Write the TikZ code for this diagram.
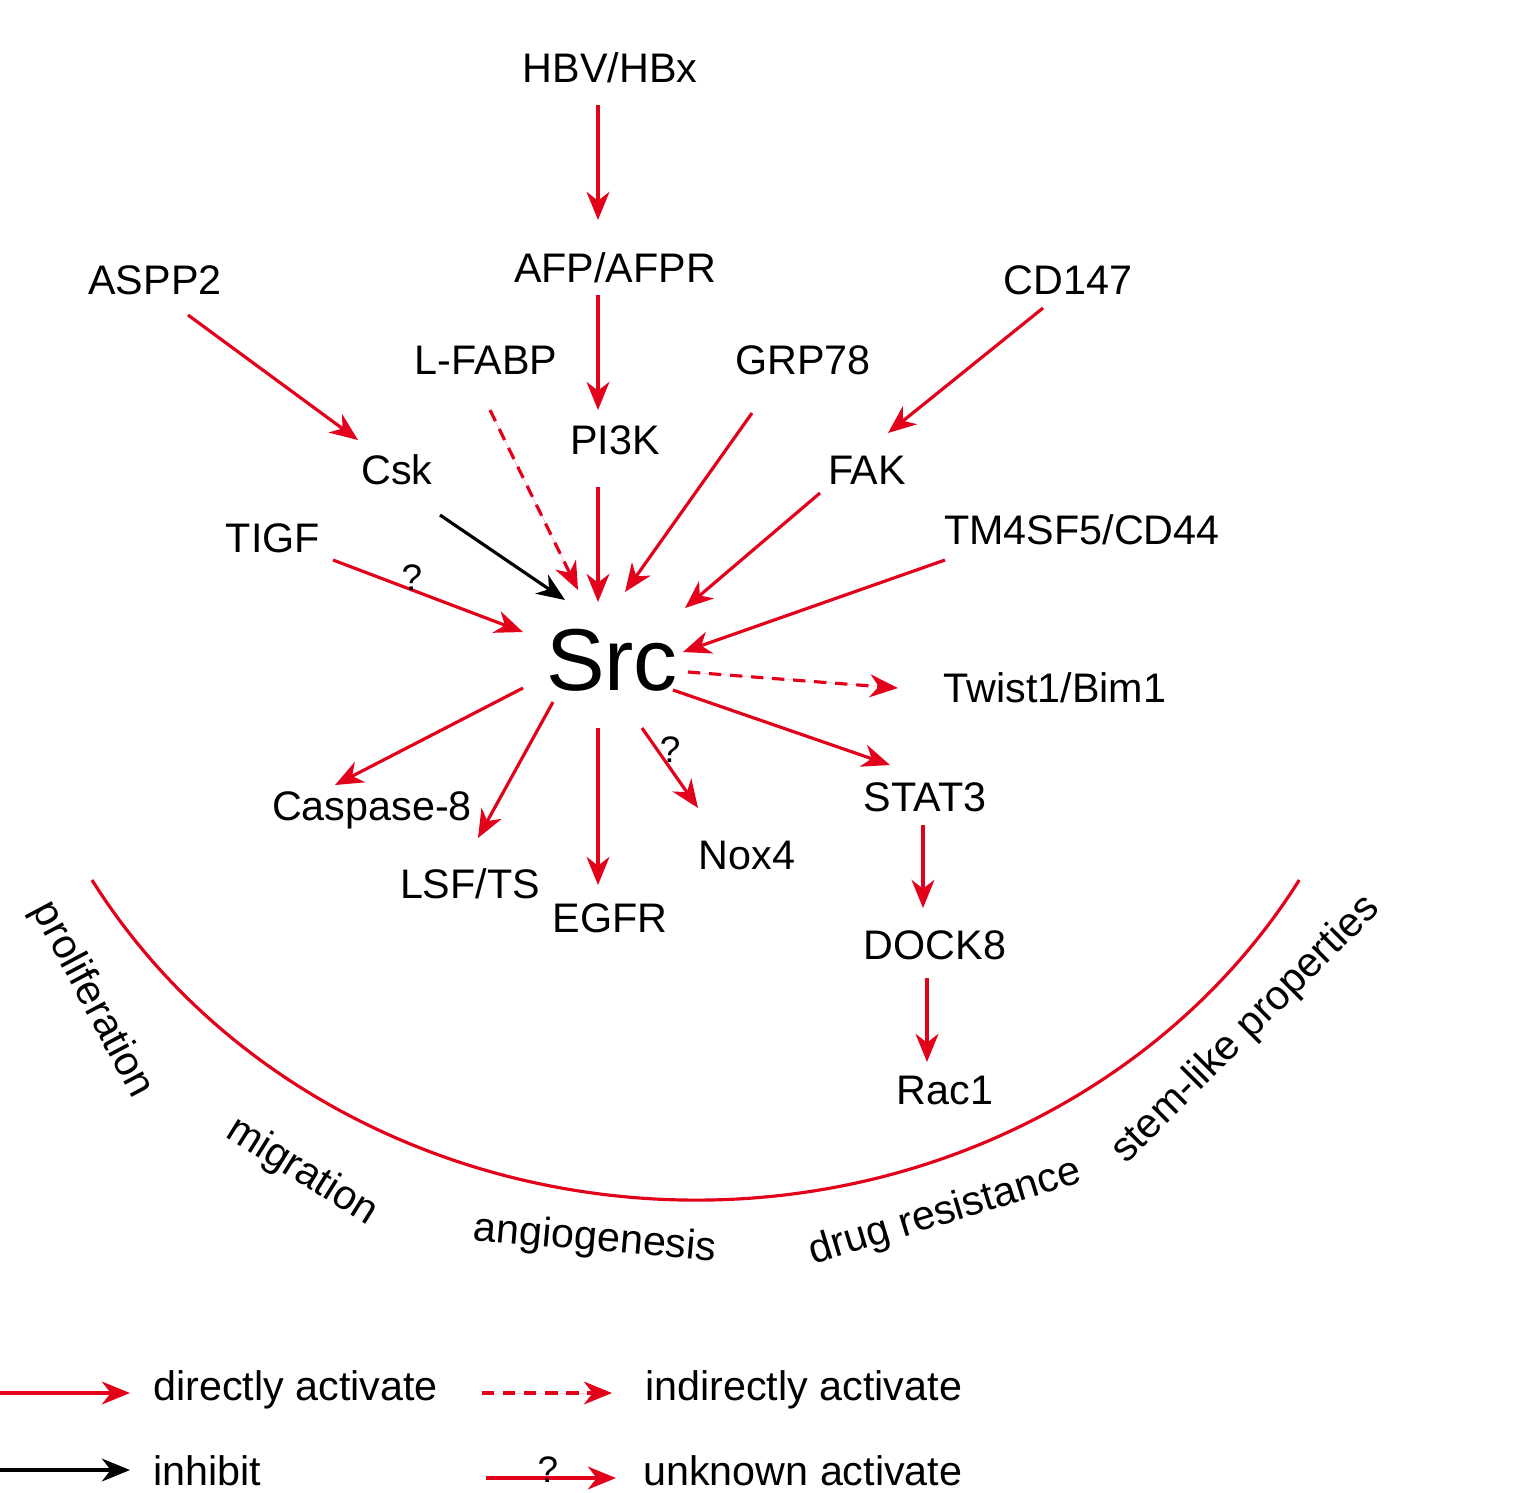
\documentclass[tikz,border=0pt]{standalone}
\usepackage{fontspec}
\setmainfont{Liberation Sans}
\usetikzlibrary{arrows.meta}
\definecolor{rd}{RGB}{226,0,26}
\begin{document}
\begin{tikzpicture}[x=0.02cm,y=-0.02cm,
  lbl/.style={font=\fontsize{23.5}{27}\selectfont,inner sep=0pt},
  act/.style={draw=rd,line width=1.8pt,-{Stealth[length=16pt,width=13pt,inset=5pt]},fill=rd},
  ind/.style={act,dash pattern=on 7pt off 5pt},
  inh/.style={act,draw=black,fill=black},
  q/.style={font=\fontsize{21}{24}\selectfont,inner sep=0pt}]
\useasboundingbox (0,0) rectangle (1527,1492);
\node[lbl] (hbv) at (610,68) {HBV/HBx};
\node[lbl] (afp) at (615,268) {AFP/AFPR};
\node[lbl] (aspp) at (155,280) {ASPP2};
\node[lbl] (cd) at (1068,280) {CD147};
\node[lbl] (lfabp) at (486,360) {L-FABP};
\node[lbl] (grp) at (803,360) {GRP78};
\node[lbl] (pi3k) at (615,440) {PI3K};
\node[lbl] (csk) at (397,470) {Csk};
\node[lbl] (fak) at (867,470) {FAK};
\node[lbl] (tigf) at (273,538) {TIGF};
\node[lbl] (tm) at (1082,530) {TM4SF5/CD44};
\node[inner sep=0pt,font=\fontsize{50}{54}\selectfont] (src) at (612,660) {Src};
\node[lbl] (tw) at (1055,688) {Twist1/Bim1};
\node[lbl] (casp) at (372,810) {Caspase-8};
\node[lbl] (stat) at (925,797) {STAT3};
\node[lbl] (lsf) at (470,884) {LSF/TS};
\node[lbl] (nox) at (747,855) {Nox4};
\node[lbl] (egfr) at (610,918) {EGFR};
\node[lbl] (dock) at (935,945) {DOCK8};
\node[lbl] (rac) at (945,1090) {Rac1};
% arrows
\draw[act] (598,105) -- (598,220);
\draw[act] (598,295) -- (598,410);
\draw[act] (188,315) -- (358,440);
\draw[act] (1043,308) -- (888,433);
\draw[ind] (490,410) -- (578,590);
\draw[act] (598,487) -- (598,602);
\draw[act] (752,413) -- (625,592);
\draw[inh] (440,515) -- (565,600);
\draw[act] (820,493) -- (685,608);
\draw[act] (333,560) -- (523,632);
\node[q] at (412,578) {?};
\draw[act] (945,560) -- (683,652);
\draw[ind] (688,672) -- (898,688);
\draw[act] (523,688) -- (335,785);
\draw[act] (553,702) -- (478,838);
\draw[act] (598,728) -- (598,885);
\draw[act] (642,728) -- (698,808);
\node[q] at (670,750) {?};
\draw[act] (673,690) -- (890,765);
\draw[act] (923,825) -- (923,908);
\draw[act] (927,978) -- (927,1062);
% arc
\draw[rd,line width=1.8pt] (92,880) arc[start angle=150,end angle=30,x radius=697,y radius=640];
\node[lbl,rotate=-62] at (92,1000) {proliferation};
\node[lbl,rotate=-32] at (302,1172) {migration};
\node[lbl,rotate=-5] at (595,1240) {angiogenesis};
\node[lbl,rotate=17] at (945,1213) {drug resistance};
\node[lbl,rotate=45] at (1246,1030) {stem-like properties};
% legend
\coordinate (l1a) at (0,1393); \coordinate (l1b) at (130,1393);
\draw[act] (l1a) -- (l1b);
\node[lbl,anchor=west] at (153,1390) {directly activate};
\coordinate (l2a) at (482,1393); \coordinate (l2b) at (612,1393);
\draw[ind] (l2a) -- (l2b);
\node[lbl,anchor=west] at (645,1390) {indirectly activate};
\coordinate (l3a) at (0,1470); \coordinate (l3b) at (130,1470);
\draw[inh] (l3a) -- (l3b);
\node[lbl,anchor=west] at (153,1471) {inhibit};
\coordinate (l4a) at (486,1478); \coordinate (l4b) at (616,1478);
\draw[act] (l4a) -- (l4b);
\node[q] at (548,1470) {?};
\node[lbl,anchor=west] at (643,1471) {unknown activate};
\end{tikzpicture}
\end{document}
